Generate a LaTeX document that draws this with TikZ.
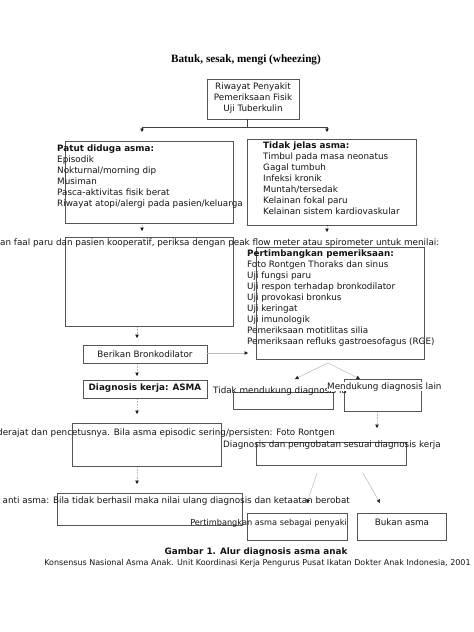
\documentclass[tikz,border=0pt]{standalone}
\usepackage{fontspec}
\setmainfont{DejaVu Sans}
\newfontfamily\titlefont{Liberation Serif}
\usetikzlibrary{arrows.meta}
\definecolor{boxc}{RGB}{85,85,85}
\definecolor{linec}{RGB}{190,190,190}
\definecolor{tipc}{RGB}{30,30,30}
\tikzset{
  box/.style={draw=boxc, line width=0.8pt, inner sep=0pt},
  txt/.style={font=\fontsize{8.8}{11}\selectfont, inner sep=0pt, text=black!92},
  list/.style={txt, align=left, anchor=north west},
  conn/.style={draw=linec, line width=0.6pt, -{Triangle[length=3.5pt,width=3.5pt,color=tipc]}},
  darkconn/.style={draw=black!75, line width=0.7pt},
  dotconn/.style={draw=linec, line width=0.6pt, densely dotted, -{Triangle[length=3.5pt,width=3.5pt,color=tipc]}}
}
\begin{document}
\begin{tikzpicture}[x=1pt,y=-1pt]
\useasboundingbox (0,0) rectangle (474,632);
\clip (0,0) rectangle (474,632);

% title
\node[font=\titlefont\bfseries\fontsize{11.2}{13}\selectfont, inner sep=0pt] (title) at (246,60) {Batuk, sesak, mengi (wheezing)};

% boxes
\node[box, minimum width=92, minimum height=40] (b1) at (253,99) {};
\node[txt, align=center] (b1t) at (253,98) {Riwayat Penyakit\\Pemeriksaan Fisik\\Uji Tuberkulin};

\node[box, minimum width=168, minimum height=82] (patut) at (149,182) {};
\node[list] (patutt) at (57,145) {\textbf{Patut diduga asma:}\\Episodik\\Nokturnal/morning dip\\Musiman\\Pasca-aktivitas fisik berat\\Riwayat atopi/alergi pada pasien/keluarga};

\node[box, minimum width=169, minimum height=86] (tj) at (331.5,182) {};
\node[list] (tjt) at (263,142) {\textbf{Tidak jelas asma:}\\Timbul pada masa neonatus\\Gagal tumbuh\\Infeksi kronik\\Muntah/tersedak\\Kelainan fokal paru\\Kelainan sistem kardiovaskular};

\node[box, minimum width=168, minimum height=89] (bigl) at (149,281.5) {};

\node[box, minimum width=168, minimum height=112] (pert) at (340,303) {};
\node[list] (pertt) at (247,250) {\textbf{Pertimbangkan pemeriksaan:}\\Foto Rontgen Thoraks dan sinus\\Uji fungsi paru\\Uji respon terhadap bronkodilator\\Uji provokasi bronkus\\Uji keringat\\Uji imunologik\\Pemeriksaan motitlitas silia\\Pemeriksaan refluks gastroesofagus (RGE)};

\node[txt, anchor=base west] (faal) at (0,245) {an faal paru dan pasien kooperatif, periksa dengan peak flow meter atau spirometer untuk menilai:};

\node[box, minimum width=124, minimum height=18] (ber) at (145,354) {};
\node[txt] (bert) at (145,354) {Berikan Bronkodilator};

\node[box, minimum width=124, minimum height=18] (dk) at (145,389) {};
\node[txt, font=\fontsize{8.8}{11}\selectfont\bfseries] (dkt) at (145,388) {Diagnosis kerja: ASMA};

\node[box, minimum width=100, minimum height=17] (tm) at (283,400.5) {};
\node[box, minimum width=77, minimum height=32] (md) at (382.5,395) {};
\node[txt, anchor=base west] (tmt) at (213,393) {Tidak mendukung diagnosis la};
\node[txt, anchor=base west, fill=white] (mdt) at (327,389) {Mendukung diagnosis lain};

\node[box, minimum width=149, minimum height=43] (der) at (146.5,444.5) {};
\node[txt, anchor=base east] (dert) at (335,435) {derajat dan pencetusnya. Bila asma episodic sering/persisten: Foto Rontgen};

\node[box, minimum width=150, minimum height=23] (dp) at (331,453.5) {};
\node[txt, anchor=base west] (dpt) at (223,447) {Diagnosis dan pengobatan sesuai diagnosis kerja};

\node[box, minimum width=185, minimum height=32] (anti) at (149.5,509) {};
\node[txt, anchor=base east] (antit) at (350,503) {c anti asma: Bila tidak berhasil maka nilai ulang diagnosis dan ketaatan berobat};

\node[box, minimum width=100, minimum height=27] (pa) at (297,526.5) {};
\node[txt, font=\fontsize{8.2}{10}\selectfont, anchor=base east] (pat) at (347,525) {Pertimbangkan asma sebagai penyaki};
\node[box, minimum width=89, minimum height=27] (bk) at (401.5,526.5) {};
\node[txt, anchor=base] (bkt) at (402,525) {Bukan asma};

% caption
\node[txt, font=\fontsize{8.8}{11}\selectfont\bfseries] (cap1) at (256,552) {Gambar 1. Alur diagnosis asma anak};
\node[txt, font=\fontsize{8}{9}\selectfont] (cap2) at (257.5,563) {Konsensus Nasional Asma Anak. Unit Koordinasi Kerja Pengurus Pusat Ikatan Dokter Anak Indonesia, 2001};

% top tree connector
\coordinate (j0) at (247,127);
\coordinate (jl) at (142,127);
\coordinate (jr) at (327,127);
\coordinate (tl) at (142,132);
\coordinate (tr) at (327,132);
\draw[darkconn] (b1.south -| j0) -- (j0);
\draw[darkconn] (jl) -- (jr);
\draw[darkconn, -{Triangle[length=3.5pt,width=3.5pt,color=tipc]}] (jl) -- (tl);
\draw[darkconn, -{Triangle[length=3.5pt,width=3.5pt,color=tipc]}] (jr) -- (tr);

% under patut / tidak jelas
\coordinate (pl1) at (142,225);
\coordinate (pl2) at (142,231);
\coordinate (pr1) at (327,226);
\coordinate (pr2) at (327,232);
\draw[dotconn] (pl1) -- (pl2);
\draw[dotconn] (pr1) -- (pr2);

% left column
\coordinate (c1) at (137,327);
\coordinate (c2) at (137,338);
\coordinate (c3) at (137,364);
\coordinate (c4) at (137,376);
\coordinate (c5) at (137,399);
\coordinate (c6) at (137,414);
\coordinate (c7) at (137,467);
\coordinate (c8) at (137,484);
\draw[dotconn] (c1) -- (c2);
\draw[dotconn] (c3) -- (c4);
\draw[dotconn] (c5) -- (c6);
\draw[dotconn] (c7) -- (c8);

% bronkodilator to pertimbangkan
\coordinate (bp) at (248,353);
\draw[conn] (ber.east |- bp) -- (bp);

% from pertimbangkan
\coordinate (pk) at (328,363);
\coordinate (pkl) at (295,379);
\coordinate (pkr) at (360,379);
\draw[conn] (pk) -- (pkl);
\draw[conn] (pk) -- (pkr);

% mendukung to diagnosis dan pengobatan
\coordinate (m1) at (377,412);
\coordinate (m2) at (377,428);
\draw[dotconn] (m1) -- (m2);

% from diagnosis dan pengobatan
\coordinate (d1) at (317,473);
\coordinate (d2) at (307,503);
\coordinate (d3) at (363,473);
\coordinate (d4) at (380,503);
\draw[conn] (d1) -- (d2);
\draw[conn] (d3) -- (d4);
\end{tikzpicture}
\end{document}
